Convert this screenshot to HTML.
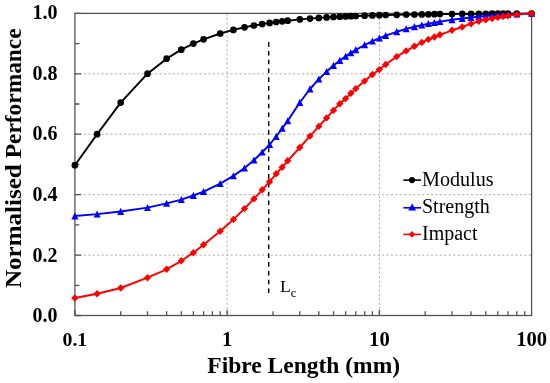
<!DOCTYPE html>
<html lang="en"><head><meta charset="utf-8"><title>Normalised Performance vs Fibre Length</title>
<style>html,body{margin:0;padding:0;background:#fff}body{width:550px;height:383px;overflow:hidden}</style></head>
<body>
<svg width="550" height="383" viewBox="0 0 550 383" style="display:block">
<rect width="550" height="383" fill="#fff"/>
<path d="M74.9 255.1H531.6M74.9 194.7H531.6M74.9 134.2H531.6M74.9 73.8H531.6M227.1 13.4V315.5M379.4 13.4V315.5" stroke="#adadad" stroke-width="1.0" stroke-dasharray="2.2 2.25" fill="none"/>
<path d="M268.7 42.1V293.4" stroke="#000" stroke-width="1.4" stroke-dasharray="4.6 4.2" fill="none"/>
<path d="M74.9 315.5h6.2M74.9 285.3h4.4M74.9 255.1h6.2M74.9 224.9h4.4M74.9 194.7h6.2M74.9 164.4h4.4M74.9 134.2h6.2M74.9 104.0h4.4M74.9 73.8h6.2M74.9 43.6h4.4M74.9 13.4h6.2M74.9 315.5v-5.6M120.7 315.5v-4.2M147.5 315.5v-4.2M166.6 315.5v-4.2M181.3 315.5v-4.2M193.4 315.5v-4.2M203.6 315.5v-4.2M212.4 315.5v-4.2M220.2 315.5v-4.2M227.1 315.5v-5.6M273.0 315.5v-4.2M299.8 315.5v-4.2M318.8 315.5v-4.2M333.5 315.5v-4.2M345.6 315.5v-4.2M355.8 315.5v-4.2M364.6 315.5v-4.2M372.4 315.5v-4.2M379.4 315.5v-5.6M425.2 315.5v-4.2M452.0 315.5v-4.2M471.0 315.5v-4.2M485.8 315.5v-4.2M497.8 315.5v-4.2M508.0 315.5v-4.2M516.8 315.5v-4.2M524.6 315.5v-4.2" stroke="#505050" stroke-width="1.3" fill="none"/>
<rect x="74.9" y="13.4" width="456.7" height="302.1" fill="none" stroke="#505050" stroke-width="1.25"/>
<path d="M74.9 165.2L97.1 134.2L120.7 102.6L147.5 73.7L166.6 58.7L181.3 49.7L193.4 43.6L203.6 39.3L220.2 33.5L233.4 29.9L244.5 27.3L253.9 25.5L262.2 24.1L269.6 22.9L276.2 22.0L282.2 21.3L287.7 20.7L299.8 19.4L310.0 18.6L318.8 17.9L326.6 17.4L333.5 17.0L339.8 16.7L345.6 16.4L350.9 16.2L355.8 16.0L364.6 15.7L372.4 15.4L379.4 15.2L385.7 15.0L396.7 14.8L406.2 14.6L414.4 14.5L421.8 14.4L428.4 14.3L434.4 14.2L439.9 14.1L452.0 14.0L462.2 13.9L471.0 13.9L478.8 13.8L485.8 13.8L492.1 13.7L497.8 13.7L503.1 13.7L508.0 13.7L516.8 13.6L531.6 13.6" stroke="#000" stroke-width="1.95" fill="none" stroke-linejoin="round"/><g fill="#000"><circle cx="74.9" cy="165.2" r="3.35"/><circle cx="97.1" cy="134.2" r="3.35"/><circle cx="120.7" cy="102.6" r="3.35"/><circle cx="147.5" cy="73.7" r="3.35"/><circle cx="166.6" cy="58.7" r="3.35"/><circle cx="181.3" cy="49.7" r="3.35"/><circle cx="193.4" cy="43.6" r="3.35"/><circle cx="203.6" cy="39.3" r="3.35"/><circle cx="220.2" cy="33.5" r="3.35"/><circle cx="233.4" cy="29.9" r="3.35"/><circle cx="244.5" cy="27.3" r="3.35"/><circle cx="253.9" cy="25.5" r="3.35"/><circle cx="262.2" cy="24.1" r="3.35"/><circle cx="269.6" cy="22.9" r="3.35"/><circle cx="276.2" cy="22.0" r="3.35"/><circle cx="282.2" cy="21.3" r="3.35"/><circle cx="287.7" cy="20.7" r="3.35"/><circle cx="299.8" cy="19.4" r="3.35"/><circle cx="310.0" cy="18.6" r="3.35"/><circle cx="318.8" cy="17.9" r="3.35"/><circle cx="326.6" cy="17.4" r="3.35"/><circle cx="333.5" cy="17.0" r="3.35"/><circle cx="339.8" cy="16.7" r="3.35"/><circle cx="345.6" cy="16.4" r="3.35"/><circle cx="350.9" cy="16.2" r="3.35"/><circle cx="355.8" cy="16.0" r="3.35"/><circle cx="364.6" cy="15.7" r="3.35"/><circle cx="372.4" cy="15.4" r="3.35"/><circle cx="379.4" cy="15.2" r="3.35"/><circle cx="385.7" cy="15.0" r="3.35"/><circle cx="396.7" cy="14.8" r="3.35"/><circle cx="406.2" cy="14.6" r="3.35"/><circle cx="414.4" cy="14.5" r="3.35"/><circle cx="421.8" cy="14.4" r="3.35"/><circle cx="428.4" cy="14.3" r="3.35"/><circle cx="434.4" cy="14.2" r="3.35"/><circle cx="439.9" cy="14.1" r="3.35"/><circle cx="452.0" cy="14.0" r="3.35"/><circle cx="462.2" cy="13.9" r="3.35"/><circle cx="471.0" cy="13.9" r="3.35"/><circle cx="478.8" cy="13.8" r="3.35"/><circle cx="485.8" cy="13.8" r="3.35"/><circle cx="492.1" cy="13.7" r="3.35"/><circle cx="497.8" cy="13.7" r="3.35"/><circle cx="503.1" cy="13.7" r="3.35"/><circle cx="508.0" cy="13.7" r="3.35"/><circle cx="516.8" cy="13.6" r="3.35"/><circle cx="531.6" cy="13.6" r="3.35"/></g>
<path d="M74.9 216.0L97.1 214.1L120.7 211.5L147.5 207.6L166.6 203.4L181.3 199.6L193.4 195.5L203.6 191.6L220.2 183.6L233.4 175.9L244.5 168.1L253.9 160.2L262.2 152.2L269.6 144.6L276.2 136.5L282.2 128.4L287.7 120.9L299.8 102.5L310.0 89.0L318.8 79.2L326.6 71.6L333.5 65.5L339.8 60.5L345.6 56.4L350.9 52.9L355.8 49.9L364.6 45.0L372.4 41.1L379.4 38.1L385.7 35.6L396.7 31.8L406.2 28.9L414.4 26.8L421.8 25.1L428.4 23.7L434.4 22.6L439.9 21.6L452.0 19.8L462.2 18.5L471.0 17.5L478.8 16.8L485.8 16.1L492.1 15.6L497.8 15.2L503.1 14.9L508.0 14.6L516.8 14.1L531.6 13.4" stroke="#0000ff" stroke-width="1.95" fill="none" stroke-linejoin="round"/><g fill="#0000ff"><path d="M74.9 212.3L78.4 219.4H71.4Z"/><path d="M97.1 210.4L100.7 217.5H93.6Z"/><path d="M120.7 207.8L124.2 214.9H117.2Z"/><path d="M147.5 203.9L151.0 211.0H144.0Z"/><path d="M166.6 199.7L170.1 206.8H163.0Z"/><path d="M181.3 195.9L184.8 203.0H177.8Z"/><path d="M193.4 191.8L196.9 198.9H189.9Z"/><path d="M203.6 187.9L207.1 195.0H200.0Z"/><path d="M220.2 179.9L223.7 187.0H216.7Z"/><path d="M233.4 172.2L236.9 179.3H229.9Z"/><path d="M244.5 164.4L248.0 171.5H241.0Z"/><path d="M253.9 156.5L257.5 163.6H250.4Z"/><path d="M262.2 148.4L265.7 155.5H258.7Z"/><path d="M269.6 140.9L273.1 148.0H266.1Z"/><path d="M276.2 132.8L279.7 139.9H272.7Z"/><path d="M282.2 124.7L285.7 131.8H278.7Z"/><path d="M287.7 117.2L291.2 124.3H284.2Z"/><path d="M299.8 98.8L303.3 105.9H296.3Z"/><path d="M310.0 85.3L313.5 92.4H306.4Z"/><path d="M318.8 75.5L322.3 82.6H315.3Z"/><path d="M326.6 67.9L330.1 75.0H323.1Z"/><path d="M333.5 61.8L337.0 68.9H330.0Z"/><path d="M339.8 56.8L343.4 63.9H336.3Z"/><path d="M345.6 52.7L349.1 59.8H342.1Z"/><path d="M350.9 49.2L354.4 56.3H347.4Z"/><path d="M355.8 46.1L359.3 53.2H352.3Z"/><path d="M364.6 41.2L368.1 48.3H361.1Z"/><path d="M372.4 37.4L375.9 44.5H368.9Z"/><path d="M379.4 34.4L382.9 41.5H375.9Z"/><path d="M385.7 31.9L389.2 39.0H382.2Z"/><path d="M396.7 28.1L400.2 35.2H393.2Z"/><path d="M406.2 25.2L409.7 32.3H402.7Z"/><path d="M414.4 23.1L418.0 30.2H410.9Z"/><path d="M421.8 21.4L425.3 28.5H418.3Z"/><path d="M428.4 20.0L431.9 27.1H424.9Z"/><path d="M434.4 18.9L437.9 26.0H430.9Z"/><path d="M439.9 17.9L443.5 25.0H436.4Z"/><path d="M452.0 16.1L455.5 23.2H448.5Z"/><path d="M462.2 14.8L465.7 21.9H458.7Z"/><path d="M471.0 13.8L474.5 20.9H467.5Z"/><path d="M478.8 13.0L482.3 20.1H475.3Z"/><path d="M485.8 12.4L489.3 19.5H482.3Z"/><path d="M492.1 11.9L495.6 19.0H488.6Z"/><path d="M497.8 11.5L501.3 18.6H494.3Z"/><path d="M503.1 11.2L506.6 18.3H499.6Z"/><path d="M508.0 10.9L511.5 18.0H504.5Z"/><path d="M516.8 10.4L520.4 17.5H513.3Z"/><path d="M531.6 9.7L535.1 16.8H528.1Z"/></g>
<path d="M74.9 298.0L97.1 293.7L120.7 288.0L147.5 277.7L166.6 269.3L181.3 260.8L193.4 252.7L203.6 244.8L220.2 231.2L233.4 219.4L244.5 208.6L253.9 198.9L262.2 189.8L269.6 181.7L276.2 173.8L282.2 167.2L287.7 160.8L299.8 147.5L310.0 136.1L318.8 126.4L326.6 117.9L333.5 110.4L339.8 103.7L345.6 98.6L350.9 93.2L355.8 88.6L364.6 81.1L372.4 74.5L379.4 69.6L385.7 64.5L396.7 56.6L406.2 50.9L414.4 46.3L421.8 42.4L428.4 39.4L434.4 37.0L439.9 34.8L452.0 30.3L462.2 27.0L471.0 23.7L478.8 21.3L485.8 19.7L492.1 18.5L497.8 17.3L503.1 16.4L508.0 15.8L516.8 14.6L531.6 13.4" stroke="#ff0000" stroke-width="1.95" fill="none" stroke-linejoin="round"/><g fill="#ff0000"><path d="M74.9 294.3L78.5 298.0L74.9 301.7L71.3 298.0Z"/><path d="M97.1 290.0L100.8 293.7L97.1 297.4L93.5 293.7Z"/><path d="M120.7 284.3L124.4 288.0L120.7 291.7L117.1 288.0Z"/><path d="M147.5 274.0L151.2 277.7L147.5 281.4L143.9 277.7Z"/><path d="M166.6 265.6L170.2 269.3L166.6 273.0L162.9 269.3Z"/><path d="M181.3 257.1L184.9 260.8L181.3 264.5L177.7 260.8Z"/><path d="M193.4 249.0L197.0 252.7L193.4 256.4L189.7 252.7Z"/><path d="M203.6 241.1L207.2 244.8L203.6 248.5L199.9 244.8Z"/><path d="M220.2 227.5L223.8 231.2L220.2 234.9L216.5 231.2Z"/><path d="M233.4 215.7L237.1 219.4L233.4 223.1L229.8 219.4Z"/><path d="M244.5 204.9L248.1 208.6L244.5 212.3L240.9 208.6Z"/><path d="M253.9 195.2L257.6 198.9L253.9 202.6L250.3 198.9Z"/><path d="M262.2 186.1L265.8 189.8L262.2 193.5L258.6 189.8Z"/><path d="M269.6 178.0L273.2 181.7L269.6 185.4L265.9 181.7Z"/><path d="M276.2 170.1L279.8 173.8L276.2 177.5L272.6 173.8Z"/><path d="M282.2 163.5L285.8 167.2L282.2 170.9L278.6 167.2Z"/><path d="M287.7 157.1L291.3 160.8L287.7 164.5L284.1 160.8Z"/><path d="M299.8 143.8L303.4 147.5L299.8 151.2L296.1 147.5Z"/><path d="M310.0 132.4L313.6 136.1L310.0 139.8L306.3 136.1Z"/><path d="M318.8 122.7L322.4 126.4L318.8 130.1L315.2 126.4Z"/><path d="M326.6 114.2L330.2 117.9L326.6 121.6L322.9 117.9Z"/><path d="M333.5 106.7L337.2 110.4L333.5 114.1L329.9 110.4Z"/><path d="M339.8 100.0L343.5 103.7L339.8 107.4L336.2 103.7Z"/><path d="M345.6 94.9L349.2 98.6L345.6 102.3L342.0 98.6Z"/><path d="M350.9 89.5L354.5 93.2L350.9 96.9L347.3 93.2Z"/><path d="M355.8 84.9L359.4 88.6L355.8 92.3L352.2 88.6Z"/><path d="M364.6 77.4L368.2 81.1L364.6 84.8L361.0 81.1Z"/><path d="M372.4 70.8L376.0 74.5L372.4 78.2L368.8 74.5Z"/><path d="M379.4 65.9L383.0 69.6L379.4 73.3L375.7 69.6Z"/><path d="M385.7 60.8L389.3 64.5L385.7 68.2L382.0 64.5Z"/><path d="M396.7 52.9L400.3 56.6L396.7 60.3L393.1 56.6Z"/><path d="M406.2 47.2L409.8 50.9L406.2 54.6L402.5 50.9Z"/><path d="M414.4 42.6L418.1 46.3L414.4 50.0L410.8 46.3Z"/><path d="M421.8 38.7L425.4 42.4L421.8 46.1L418.2 42.4Z"/><path d="M428.4 35.7L432.0 39.4L428.4 43.1L424.8 39.4Z"/><path d="M434.4 33.3L438.1 37.0L434.4 40.7L430.8 37.0Z"/><path d="M439.9 31.1L443.6 34.8L439.9 38.5L436.3 34.8Z"/><path d="M452.0 26.6L455.6 30.3L452.0 34.0L448.4 30.3Z"/><path d="M462.2 23.3L465.8 27.0L462.2 30.7L458.6 27.0Z"/><path d="M471.0 20.0L474.6 23.7L471.0 27.4L467.4 23.7Z"/><path d="M478.8 17.6L482.4 21.3L478.8 25.0L475.2 21.3Z"/><path d="M485.8 16.0L489.4 19.7L485.8 23.4L482.1 19.7Z"/><path d="M492.1 14.8L495.7 18.5L492.1 22.2L488.4 18.5Z"/><path d="M497.8 13.6L501.5 17.3L497.8 21.0L494.2 17.3Z"/><path d="M503.1 12.7L506.7 16.4L503.1 20.1L499.5 16.4Z"/><path d="M508.0 12.1L511.6 15.8L508.0 19.5L504.4 15.8Z"/><path d="M516.8 10.9L520.5 14.6L516.8 18.3L513.2 14.6Z"/><path d="M531.6 9.7L535.2 13.4L531.6 17.1L528.0 13.4Z"/></g>
<g font-family="'Liberation Serif', 'Times New Roman', serif" fill="#000">
<g font-weight="bold" font-size="20" text-anchor="end">
<text x="57.6" y="322.4">0.0</text>
<text x="57.6" y="261.7">0.2</text>
<text x="57.6" y="201.1">0.4</text>
<text x="57.6" y="140.4">0.6</text>
<text x="57.6" y="79.8">0.8</text>
<text x="57.6" y="19.1">1.0</text>
</g>
<g font-weight="bold" font-size="20.6" text-anchor="middle">
<text x="74.9" y="345.7" font-size="19.8">0.1</text>
<text x="227.1" y="345.7">1</text>
<text x="379.4" y="345.7">10</text>
<text x="531.6" y="345.7">100</text>
</g>
<text x="303.7" y="373.3" font-weight="bold" font-size="23.8" text-anchor="middle" textLength="192.8" lengthAdjust="spacingAndGlyphs">Fibre Length (mm)</text>
<text transform="translate(20.8 288) rotate(-90)" font-weight="bold" font-size="23.6" textLength="123.8" lengthAdjust="spacingAndGlyphs">Normalised</text>
<text transform="translate(20.8 158.2) rotate(-90)" font-weight="bold" font-size="23.6" textLength="129.8" lengthAdjust="spacingAndGlyphs">Performance</text>
<g font-size="20">
<text x="422" y="185.5" textLength="71.6" lengthAdjust="spacingAndGlyphs">Modulus</text>
<text x="422" y="212.7">Strength</text>
<text x="422" y="239.5">Impact</text>
<text x="280" y="292.4" font-size="17.6">L<tspan font-size="12.5" dy="4.6">c</tspan></text>
</g>
</g>
<path d="M403.4 180.1h17.6" stroke="#000" stroke-width="1.6"/><g fill="#000"><circle cx="412.0" cy="180.1" r="3.1"/></g>
<path d="M403.4 207.8h17.6" stroke="#0000ff" stroke-width="1.6"/><g fill="#0000ff"><path d="M412.2 203.6L416.2 210.6H408.2Z"/></g>
<path d="M403.4 234.4h17.6" stroke="#ff0000" stroke-width="1.6"/><g fill="#ff0000"><path d="M412.0 231.1L415.2 234.4L412.0 237.7L408.8 234.4Z"/></g>
</svg>
</body></html>
